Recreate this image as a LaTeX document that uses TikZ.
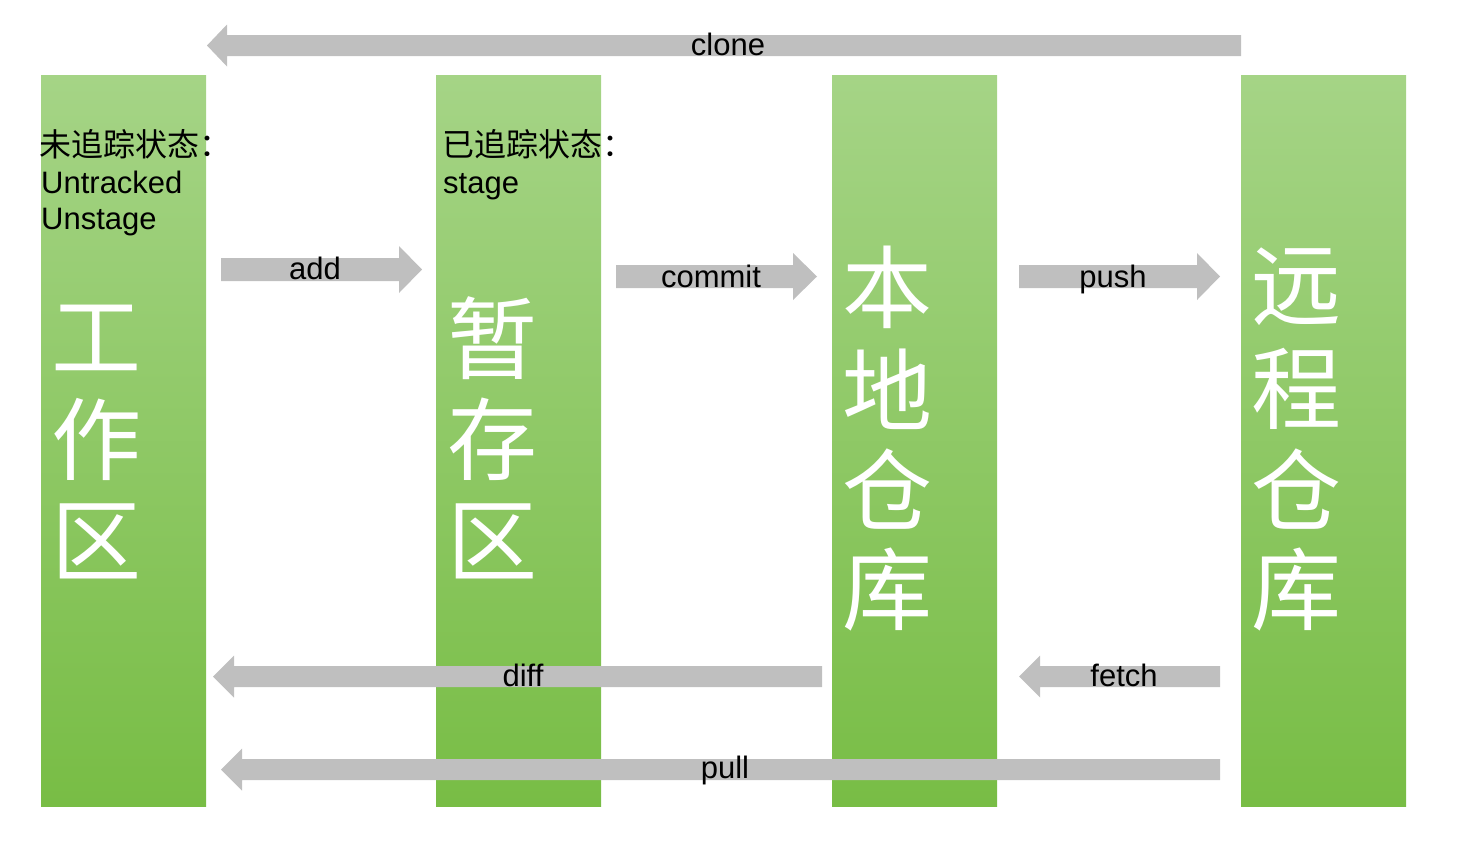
\documentclass[tikz,border=0pt]{standalone}
\usepackage{fontspec}
\setmainfont{Liberation Sans}
\newfontfamily\cjk{Noto Sans CJK SC}
\definecolor{gtop}{HTML}{A5D486}
\definecolor{gbot}{HTML}{78BD45}
\definecolor{agray}{HTML}{BFBFBF}
% tail x, head base x, tip x, y centre, shaft half height, head half height
\newcommand\garrow[6]{%
  \fill[agray] ({#1},{#4-#5}) -- ({#2},{#4-#5}) -- ({#2},{#4-#6}) -- ({#3},{#4})
    -- ({#2},{#4+#6}) -- ({#2},{#4+#5}) -- ({#1},{#4+#5}) -- cycle;}
\begin{document}
\begin{tikzpicture}[x=1pt,y=-1pt,
  col/.style={inner sep=0pt, minimum width=165pt, minimum height=731pt,
    top color=gtop, bottom color=gbot, draw=none},
  lbl/.style={inner sep=0pt, anchor=base, font=\fontsize{31}{36}\selectfont},
  note/.style={inner sep=0pt, anchor=base west, font=\fontsize{31}{37}\selectfont},
  cnote/.style={inner sep=0pt, anchor=base west, font=\cjk\fontsize{32}{37}\selectfont},
  big/.style={inner sep=0pt, anchor=center, text=white, font=\cjk\fontsize{90}{100}\selectfont}]
\useasboundingbox (0,0) rectangle (1459,860);
% columns
\node[col] (c1) at (123.5,440.5) {};
\node[col] (c2) at (518.5,440.5) {};
\node[col] (c3) at (914.5,440.5) {};
\node[col] (c4) at (1323.5,440.5) {};
% arrows
\garrow{1241}{227}{207}{45.5}{10.5}{21}
\garrow{221}{399}{422}{269.5}{11.5}{23.5}
\garrow{616}{793}{817}{276.5}{11.5}{23.5}
\garrow{1019}{1197}{1220}{276.5}{11.5}{23.5}
\garrow{822}{234}{213}{676.5}{10.5}{21}
\garrow{1220}{1040}{1019}{676.5}{10.5}{21}
\garrow{1220}{242}{221}{769.5}{10.5}{21}
% arrow labels
\node[lbl] (lclone) at (728,55) {clone};
\node[lbl] (ladd) at (315,279) {add};
\node[lbl] (lcommit) at (711,287) {commit};
\node[lbl] (lpush) at (1113,287) {push};
\node[lbl] (ldiff) at (523,686) {diff};
\node[lbl] (lfetch) at (1124,686) {fetch};
\node[lbl] (lpull) at (725,778) {pull};
% notes
\node[cnote] (n1a) at (39,156) {未追踪状态：};
\node[note] (n1b) at (41,193) {Untracked};
\node[note] (n1c) at (41,229) {Unstage};
\node[cnote] (n2a) at (442,156) {已追踪状态：};
\node[note] (n2b) at (443,193) {stage};
% big characters
\node[big] (w1) at (96,338) {工};
\node[big] (w2) at (96,439) {作};
\node[big] (w3) at (96,541) {区};
\node[big] (s1) at (492,338) {暂};
\node[big] (s2) at (492,439) {存};
\node[big] (s3) at (492,541) {区};
\node[big] (l1) at (887,287) {本};
\node[big] (l2) at (887,389) {地};
\node[big] (l3) at (887,489) {仓};
\node[big] (l4) at (887,590) {库};
\node[big] (r1) at (1296,287) {远};
\node[big] (r2) at (1296,389) {程};
\node[big] (r3) at (1296,489) {仓};
\node[big] (r4) at (1296,590) {库};
\end{tikzpicture}
\end{document}
